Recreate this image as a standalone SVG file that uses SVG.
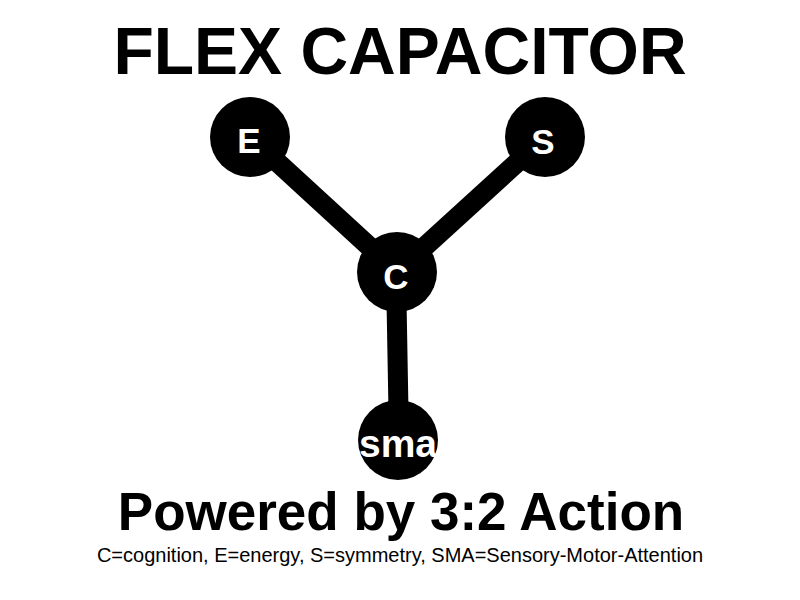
<svg xmlns="http://www.w3.org/2000/svg" width="800" height="600" viewBox="0 0 800 600">
<style>
.node{fill:#000}
.lbl{fill:#fff;font-family:"Liberation Sans",Arial,sans-serif;font-weight:bold;text-anchor:middle}
.edge{stroke:#000;stroke-width:20;stroke-linecap:butt}
.ttl{fill:#000;font-family:"Liberation Sans",Arial,sans-serif;font-weight:bold;text-anchor:middle}
.sub{fill:#000;font-family:"Liberation Sans",Arial,sans-serif;text-anchor:middle}
</style>
<rect width="800" height="600" fill="#fff"/>
<text class="ttl" x="400" y="74" font-size="66">FLEX CAPACITOR</text>
<g id="connectors">
<line class="edge" x1="250" y1="137" x2="397" y2="272"/>
<line class="edge" x1="545" y1="137" x2="397" y2="272"/>
<line class="edge" x1="396" y1="272" x2="399" y2="440"/>
</g>
<g id="node-E"><circle class="node" cx="250" cy="137" r="40"/><text class="lbl" x="249" y="153" font-size="35">E</text></g>
<g id="node-S"><circle class="node" cx="545" cy="137" r="40"/><text class="lbl" x="543" y="154" font-size="35">S</text></g>
<g id="node-C"><circle class="node" cx="397" cy="272" r="40"/><text class="lbl" x="396" y="289" font-size="35">C</text></g>
<g id="node-sma"><circle class="node" cx="398" cy="440" r="40"/><text class="lbl" x="398" y="457" font-size="39">sma</text></g>
<text class="ttl" x="401" y="530" font-size="53">Powered by 3:2 Action</text>
<text class="sub" x="400" y="562" font-size="20">C=cognition, E=energy, S=symmetry, SMA=Sensory-Motor-Attention</text>
</svg>
